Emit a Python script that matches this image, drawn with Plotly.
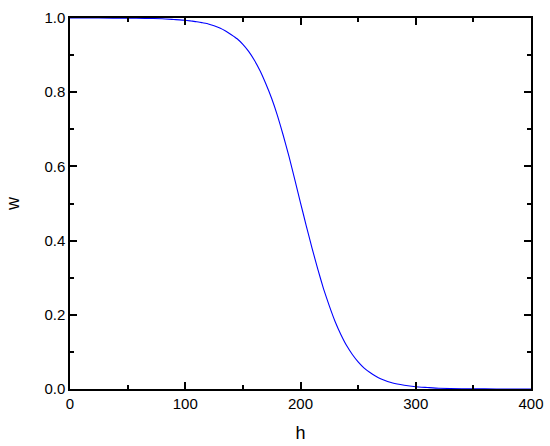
import plotly.graph_objects as go

# values
h = [0, 25, 50, 65, 80, 90, 100, 105, 110, 115, 120, 125, 130, 135, 140, 145,
     150, 155, 160, 165, 170, 175, 180, 185, 190, 195, 200, 205, 210, 215,
     220, 225, 230, 235, 240, 245, 250, 255, 260, 265, 270, 280, 290, 300,
     310, 320, 340, 360, 380, 400]
w = [1.000, 1.000, 0.9995, 0.999, 0.998, 0.996, 0.994, 0.992, 0.990, 0.987,
     0.984, 0.979, 0.973, 0.965, 0.955, 0.944, 0.929, 0.910, 0.886, 0.857,
     0.822, 0.783, 0.737, 0.684, 0.627, 0.565, 0.502, 0.440, 0.380, 0.323,
     0.270, 0.224, 0.182, 0.147, 0.117, 0.093, 0.073, 0.057, 0.045, 0.035,
     0.027, 0.016, 0.010, 0.006, 0.004, 0.002, 0.0008, 0.0003, 0.0001, 0.0]

x_ticks = [0, 100, 200, 300, 400]
y_ticks = [0.0, 0.2, 0.4, 0.6, 0.8, 1.0]

font_name = "Liberation Sans, Arial"

fig = go.Figure(go.Scatter(x=h, y=w, mode="lines",
                           line=dict(color="#0000FF", width=1.1, shape="spline", smoothing=0.4)))

axis_style = dict(
    showline=True, linecolor="black", linewidth=1.5, mirror="allticks",
    ticks="inside", ticklen=7, tickwidth=1.5, tickcolor="black",
    showgrid=False, zeroline=False, automargin=False,
    tickfont=dict(family=font_name, size=15, color="black"),
)

fig.update_xaxes(range=[0, 400], tickvals=x_ticks,
                 minor=dict(ticks="inside", ticklen=4, tickwidth=1.5, tickcolor="black", dtick=50),
                 title=dict(text="h", font=dict(family=font_name, size=18, color="black"), standoff=16),
                 **axis_style)
fig.update_yaxes(range=[0, 1.0], tickvals=y_ticks, tickformat=".1f",
                 minor=dict(ticks="inside", ticklen=4, tickwidth=1.5, tickcolor="black", dtick=0.1),
                 title=dict(text="w", font=dict(family=font_name, size=18, color="black"), standoff=20),
                 **axis_style)

fig.update_layout(width=550, height=446, margin=dict(l=70, r=19, t=18, b=57),
                  plot_bgcolor="white", paper_bgcolor="white", showlegend=False)

# drop the page's default body margin so the figure sits at the window corner
fig.write_html("out.html", config={"displayModeBar": False},
               post_script="document.body.style.margin='0';")
